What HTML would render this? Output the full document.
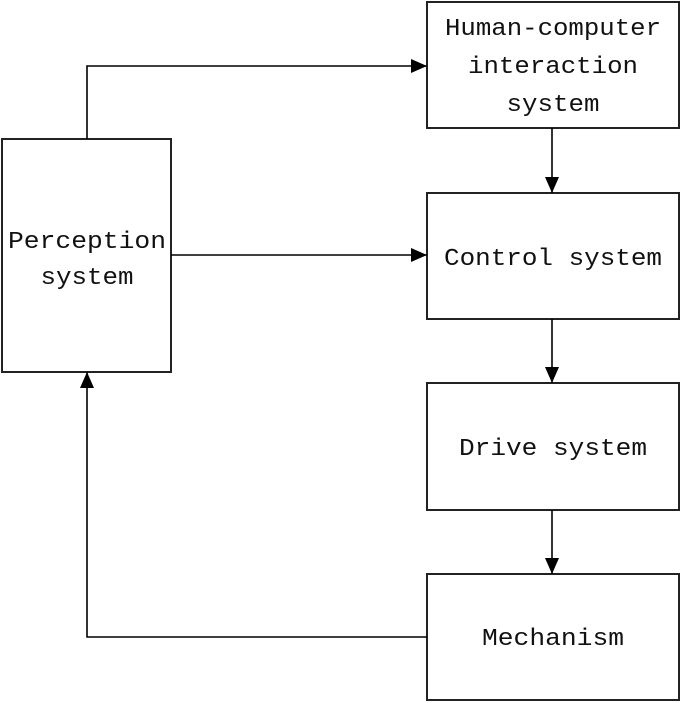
<!DOCTYPE html>
<html><head><style>html,body{margin:0;padding:0;background:#fff;}svg{display:block}</style></head>
<body>
<svg width="685" height="703" viewBox="0 0 685 703" xmlns="http://www.w3.org/2000/svg">
<defs><marker id="a" markerWidth="10" markerHeight="10" refX="10" refY="5" orient="auto" markerUnits="userSpaceOnUse"><path d="M0,0 L10,5 L0,10 Z" fill="#000"/></marker>
<marker id="b" markerWidth="16" markerHeight="16" refX="16" refY="8" orient="auto" markerUnits="userSpaceOnUse"><path d="M0,1 L16,8 L0,15 Z" fill="#000"/></marker></defs>
<g fill="none" stroke="#222" stroke-width="2">
<rect x="427" y="2" width="252" height="126"/>
<rect x="2" y="139" width="169" height="233"/>
<rect x="427" y="193" width="252" height="126"/>
<rect x="427" y="383" width="252" height="127"/>
<rect x="427" y="574" width="252" height="126"/>
</g>
<g stroke="#000" stroke-width="1.6" fill="none">
<path d="M87,139 V66 H427" marker-end="url(#b)"/>
<path d="M171,255 H427" marker-end="url(#b)"/>
<path d="M427,637 H87 V372" marker-end="url(#b)"/>
<path d="M552,128 V193" marker-end="url(#b)"/>
<path d="M552,319 V383" marker-end="url(#b)"/>
<path d="M552,510 V574" marker-end="url(#b)"/>
</g>
<g font-family="'Liberation Mono', monospace" font-size="24" fill="#111" text-anchor="middle">
<text x="553" y="35" textLength="216" lengthAdjust="spacingAndGlyphs">Human-computer</text>
<text x="553" y="73" textLength="170" lengthAdjust="spacingAndGlyphs">interaction</text>
<text x="553" y="111" textLength="93" lengthAdjust="spacingAndGlyphs">system</text>
<text x="87" y="248" textLength="158" lengthAdjust="spacingAndGlyphs">Perception</text>
<text x="87" y="284" textLength="93" lengthAdjust="spacingAndGlyphs">system</text>
<text x="553" y="265" textLength="218" lengthAdjust="spacingAndGlyphs">Control system</text>
<text x="553" y="455" textLength="188" lengthAdjust="spacingAndGlyphs">Drive system</text>
<text x="553" y="645" textLength="142" lengthAdjust="spacingAndGlyphs">Mechanism</text>
</g>
</svg>
</body></html>
